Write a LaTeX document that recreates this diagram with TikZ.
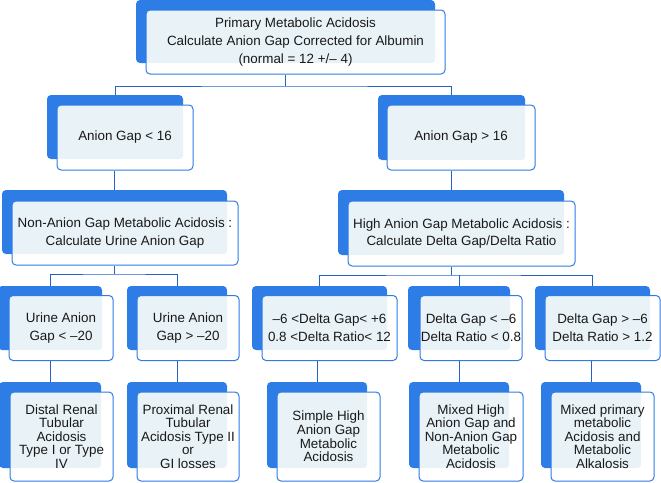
\documentclass[tikz,border=0pt]{standalone}
\usepackage{fontspec}
\setmainfont{Liberation Sans}
\definecolor{boxblue}{RGB}{46,124,230}
\definecolor{lineblue}{RGB}{36,98,196}
\definecolor{paleblue}{RGB}{233,243,247}
\definecolor{inktext}{RGB}{25,25,25}
\begin{document}
\begin{tikzpicture}[x=1pt,y=-1pt,
	backbox/.style={fill=boxblue,rounded corners=4pt,inner sep=0pt,minimum height=64pt},
	frontbox/.style={draw=boxblue,fill=white,line width=1pt,rounded corners=4pt,inner sep=0pt,
		minimum height=65pt,align=center,text=inktext,font=\fontsize{13.4}{17.6}\selectfont,
		path picture={\fill[paleblue,rounded corners=4pt] (#1.south west) rectangle (#1.north east);}},
	longtext/.style={font=\fontsize{13.4}{13.6}\selectfont},
	link/.style={draw=lineblue,line width=1pt}]
	\useasboundingbox (0,0) rectangle (661,482);
	% top
	\node[backbox,minimum width=299pt,minimum height=63pt] (primary-bg) at (285.5,31.5) {};
	\node[frontbox=primary-bg,minimum width=299pt,minimum height=64pt] (primary) at (295.5,42) {Primary Metabolic Acidosis\\Calculate Anion Gap Corrected for Albumin\\(normal = 12 +/– 4)};
	% anion gap
	\node[backbox,minimum width=136pt] (lowgap-bg) at (115,127) {};
	\node[frontbox=lowgap-bg,minimum width=136pt] (lowgap) at (125,137.5) {Anion Gap < 16};
	\node[backbox,minimum width=147pt,minimum height=65pt] (highgap-bg) at (451.5,127.5) {};
	\node[frontbox=highgap-bg,minimum width=148pt] (highgap) at (461,137.5) {Anion Gap > 16};
	% acidosis type
	\node[backbox,minimum width=225pt] (nonanion-bg) at (114.5,222) {};
	\node[frontbox=nonanion-bg,minimum width=226pt,minimum height=64pt] (nonanion) at (125,233) {Non-Anion Gap Metabolic Acidosis :\\Calculate Urine Anion Gap};
	\node[backbox,minimum width=226pt,minimum height=65pt] (highanion-bg) at (451,222.5) {};
	\node[frontbox=highanion-bg,minimum width=227pt] (highanion) at (461.5,233.5) {High Anion Gap Metabolic Acidosis :\\Calculate Delta Gap/Delta Ratio};
	% urine anion gap / delta gap
	\node[backbox,minimum width=104pt] (uaglow-bg) at (50,318) {};
	\node[frontbox=uaglow-bg,minimum width=104pt] (uaglow) at (61,328) {Urine Anion\\Gap < –20};
	\node[backbox,minimum width=100pt] (uaghigh-bg) at (177,318) {};
	\node[frontbox=uaghigh-bg,minimum width=102pt] (uaghigh) at (188,328) {Urine Anion\\Gap > –20};
	\node[backbox,minimum width=135pt] (deltanorm-bg) at (319.5,318) {};
	\node[frontbox=deltanorm-bg,minimum width=135pt] (deltanorm) at (329.5,328) {–6 <Delta Gap< +6\\0.8 <Delta Ratio< 12};
	\node[backbox,minimum width=102pt] (deltalow-bg) at (459,318) {};
	\node[frontbox=deltalow-bg,minimum width=102pt] (deltalow) at (471,328) {Delta Gap < –6\\Delta Ratio < 0.8};
	\node[backbox,minimum width=115pt] (deltahigh-bg) at (592.5,318) {};
	\node[frontbox=deltahigh-bg,minimum width=115pt] (deltahigh) at (602.5,328) {Delta Gap > –6\\Delta Ratio > 1.2};
	% diagnoses
	\node[backbox,minimum width=102pt,minimum height=86pt] (distal-bg) at (50,425) {};
	\node[frontbox=distal-bg,longtext,minimum width=103pt,minimum height=89pt] (distal) at (61.5,436.5) {Distal Renal\\Tubular\\Acidosis\\Type I or Type\\IV};
	\node[backbox,minimum width=100pt,minimum height=86pt] (proximal-bg) at (177,425) {};
	\node[frontbox=proximal-bg,longtext,minimum width=102pt,minimum height=89pt] (proximal) at (188,436.5) {Proximal Renal\\Tubular\\Acidosis Type II\\or\\GI losses};
	\node[backbox,minimum width=100pt,minimum height=86pt] (simple-bg) at (317,425) {};
	\node[frontbox=simple-bg,longtext,minimum width=103pt,minimum height=89pt] (simple) at (328.5,436.5) {Simple High\\Anion Gap\\Metabolic\\Acidosis};
	\node[backbox,minimum width=100pt,minimum height=86pt] (mixedhigh-bg) at (459,425) {};
	\node[frontbox=mixedhigh-bg,longtext,minimum width=104pt,minimum height=89pt] (mixedhigh) at (471,436.5) {Mixed High\\Anion Gap and\\Non-Anion Gap\\Metabolic\\Acidosis};
	\node[backbox,minimum width=100pt,minimum height=86pt] (mixedalk-bg) at (591,425) {};
	\node[frontbox=mixedalk-bg,longtext,minimum width=103pt,minimum height=89pt] (mixedalk) at (602.5,436.5) {Mixed primary\\metabolic\\Acidosis and\\Metabolic\\Alkalosis};
	% connectors
	\coordinate (split1) at (285.5,86);
	\coordinate (split2) at (114.5,274);
	\coordinate (split3) at (451,275);
	\draw[link] (primary-bg |- primary.south) -- (split1);
	\draw[link] (lowgap-bg.north) |- (split1) -| (highgap-bg.north);
	\draw[link] (nonanion-bg.north |- lowgap.south) -- (nonanion-bg.north);
	\draw[link] (highanion-bg.north |- highgap.south) -- (highanion-bg.north);
	\draw[link] (nonanion-bg |- nonanion.south) -- (split2);
	\draw[link] (uaglow-bg.north) |- (split2) -| (uaghigh-bg.north);
	\draw[link] (highanion-bg |- highanion.south) -- (split3);
	\draw[link] (deltanorm-bg.north) |- (split3) -| (deltahigh-bg.north);
	\draw[link] (split3 -| deltalow-bg) -- (deltalow-bg.north);
	\draw[link] (distal-bg.north |- uaglow.south) -- (distal-bg.north);
	\draw[link] (proximal-bg.north |- uaghigh.south) -- (proximal-bg.north);
	\draw[link] (simple-bg.north |- deltanorm.south) -- (simple-bg.north);
	\draw[link] (mixedhigh-bg.north |- deltalow.south) -- (mixedhigh-bg.north);
	\draw[link] (mixedalk-bg.north |- deltahigh.south) -- (mixedalk-bg.north);
\end{tikzpicture}
\end{document}
